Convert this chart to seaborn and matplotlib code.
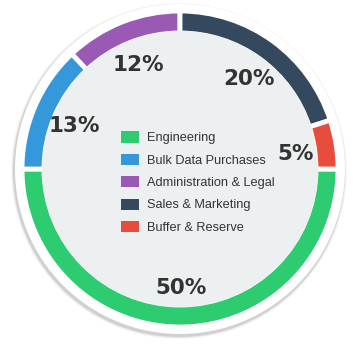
import matplotlib
matplotlib.use("agg")
import matplotlib.pyplot as plt
from matplotlib.patches import Circle, Patch
import seaborn as sns

categories = ["Engineering", "Bulk Data Purchases", "Administration & Legal",
              "Sales & Marketing", "Buffer & Reserve"]
shares = [50, 13, 12, 20, 5]
colors = ["#2ecc71", "#3498db", "#9b59b6", "#34495e", "#e74c3c"]

sns.set_theme(style="white")
plt.rcParams["font.family"] = ["Liberation Sans", "DejaVu Sans"]

fig = plt.figure(figsize=(3.6, 3.6), dpi=100)
ax = fig.add_axes([0, 0, 1, 1])
ax.set_xlim(0, 360)
ax.set_ylim(0, 360)
ax.set_aspect("equal")
ax.axis("off")

cx, cy = 180, 191

# soft shadow and white plate
for r, a in [(168, 0.03), (167, 0.06), (166, 0.1)]:
    ax.add_patch(Circle((cx - 1, cy - 2), r, color="#000000", alpha=a, lw=0))
ax.add_patch(Circle((cx, cy), 165, color="white", lw=0))

wedges, _, autotexts = ax.pie(
    shares, colors=colors, center=(cx, cy), radius=158,
    startangle=0, counterclock=False,
    wedgeprops=dict(width=22, edgecolor="white", linewidth=3.5),
    autopct="%d%%", pctdistance=116 / 158,
    textprops=dict(family="DejaVu Sans", fontweight="bold",
                   fontsize=15.5, color="#333333", zorder=5),
)
# labels sit a little lower in the original
for t in autotexts:
    x, y = t.get_position()
    t.set_position((x + 1, y - 3.5))

# inner face covers the inner white stroke of the ring
ax.add_patch(Circle((cx, cy), 138, color="#ecf0f1", lw=0, zorder=3))
ax.set_xlim(0, 360)
ax.set_ylim(0, 360)

handles = [Patch(facecolor=c, edgecolor="none") for c in colors]
leg = ax.legend(handles, categories, loc="upper left",
                bbox_to_anchor=(121 / 360, 1 - 131.5 / 360),
                frameon=False, fontsize=9.2, borderpad=0, borderaxespad=0,
                handlelength=1.42, handleheight=0.95, handletextpad=0.62,
                labelspacing=0.74, labelcolor="#333333")
leg.set_zorder(6)

fig.savefig("out.png", dpi=100)
